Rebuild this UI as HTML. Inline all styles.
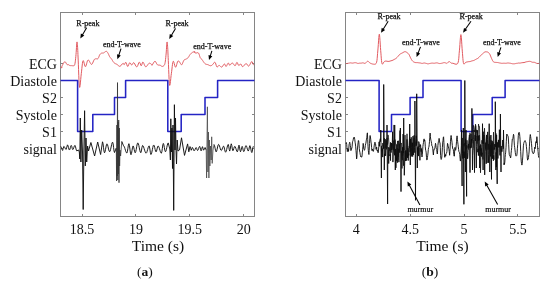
<!DOCTYPE html>
<html><head><meta charset="utf-8"><style>
html,body{margin:0;padding:0;background:#fff;}
svg{display:block;}
text{font-family:"Liberation Serif","Times New Roman",serif;fill:#111;}
.tk{font-size:14px}
.yl{font-size:14px}
.xl{font-size:15.5px}
.an{font-size:8px;stroke:#111;stroke-width:0.25px;}
.mm{font-size:8px;stroke:#111;stroke-width:0.2px;}
.pl{font-size:13.5px;}
</style></head><body>
<svg width="550" height="287" viewBox="0 0 550 287">
<rect width="550" height="287" fill="#fff"/>
<rect x="60.5" y="12.5" width="194.0" height="204.0" fill="none" stroke="#858585" stroke-width="1"/>
<line x1="82.5" y1="216.5" x2="82.5" y2="214.0" stroke="#858585" stroke-width="1"/>
<line x1="82.5" y1="12.5" x2="82.5" y2="15.0" stroke="#858585" stroke-width="1"/>
<text x="82.1" y="234.2" text-anchor="middle" class="tk">18.5</text>
<line x1="135.5" y1="216.5" x2="135.5" y2="214.0" stroke="#858585" stroke-width="1"/>
<line x1="135.5" y1="12.5" x2="135.5" y2="15.0" stroke="#858585" stroke-width="1"/>
<text x="135.9" y="234.2" text-anchor="middle" class="tk">19</text>
<line x1="189.5" y1="216.5" x2="189.5" y2="214.0" stroke="#858585" stroke-width="1"/>
<line x1="189.5" y1="12.5" x2="189.5" y2="15.0" stroke="#858585" stroke-width="1"/>
<text x="189.8" y="234.2" text-anchor="middle" class="tk">19.5</text>
<line x1="243.5" y1="216.5" x2="243.5" y2="214.0" stroke="#858585" stroke-width="1"/>
<line x1="243.5" y1="12.5" x2="243.5" y2="15.0" stroke="#858585" stroke-width="1"/>
<text x="243.7" y="234.2" text-anchor="middle" class="tk">20</text>
<line x1="60.5" y1="63.5" x2="63.0" y2="63.5" stroke="#858585" stroke-width="1"/>
<line x1="254.5" y1="63.5" x2="252.0" y2="63.5" stroke="#858585" stroke-width="1"/>
<text x="56.9" y="68.7" text-anchor="end" class="yl">ECG</text>
<line x1="60.5" y1="80.5" x2="63.0" y2="80.5" stroke="#858585" stroke-width="1"/>
<line x1="254.5" y1="80.5" x2="252.0" y2="80.5" stroke="#858585" stroke-width="1"/>
<text x="56.9" y="85.7" text-anchor="end" class="yl">Diastole</text>
<line x1="60.5" y1="97.5" x2="63.0" y2="97.5" stroke="#858585" stroke-width="1"/>
<line x1="254.5" y1="97.5" x2="252.0" y2="97.5" stroke="#858585" stroke-width="1"/>
<text x="56.9" y="102.7" text-anchor="end" class="yl">S2</text>
<line x1="60.5" y1="114.5" x2="63.0" y2="114.5" stroke="#858585" stroke-width="1"/>
<line x1="254.5" y1="114.5" x2="252.0" y2="114.5" stroke="#858585" stroke-width="1"/>
<text x="56.9" y="119.7" text-anchor="end" class="yl">Systole</text>
<line x1="60.5" y1="131.5" x2="63.0" y2="131.5" stroke="#858585" stroke-width="1"/>
<line x1="254.5" y1="131.5" x2="252.0" y2="131.5" stroke="#858585" stroke-width="1"/>
<text x="56.9" y="136.7" text-anchor="end" class="yl">S1</text>
<line x1="60.5" y1="148.5" x2="63.0" y2="148.5" stroke="#858585" stroke-width="1"/>
<line x1="254.5" y1="148.5" x2="252.0" y2="148.5" stroke="#858585" stroke-width="1"/>
<text x="56.9" y="153.7" text-anchor="end" class="yl">signal</text>
<rect x="345.5" y="12.5" width="194.0" height="204.0" fill="none" stroke="#858585" stroke-width="1"/>
<line x1="356.5" y1="216.5" x2="356.5" y2="214.0" stroke="#858585" stroke-width="1"/>
<line x1="356.5" y1="12.5" x2="356.5" y2="15.0" stroke="#858585" stroke-width="1"/>
<text x="356.3" y="234.2" text-anchor="middle" class="tk">4</text>
<line x1="410.5" y1="216.5" x2="410.5" y2="214.0" stroke="#858585" stroke-width="1"/>
<line x1="410.5" y1="12.5" x2="410.5" y2="15.0" stroke="#858585" stroke-width="1"/>
<text x="410.2" y="234.2" text-anchor="middle" class="tk">4.5</text>
<line x1="464.5" y1="216.5" x2="464.5" y2="214.0" stroke="#858585" stroke-width="1"/>
<line x1="464.5" y1="12.5" x2="464.5" y2="15.0" stroke="#858585" stroke-width="1"/>
<text x="464.1" y="234.2" text-anchor="middle" class="tk">5</text>
<line x1="517.5" y1="216.5" x2="517.5" y2="214.0" stroke="#858585" stroke-width="1"/>
<line x1="517.5" y1="12.5" x2="517.5" y2="15.0" stroke="#858585" stroke-width="1"/>
<text x="517.9" y="234.2" text-anchor="middle" class="tk">5.5</text>
<line x1="345.5" y1="63.5" x2="348.0" y2="63.5" stroke="#858585" stroke-width="1"/>
<line x1="539.5" y1="63.5" x2="537.0" y2="63.5" stroke="#858585" stroke-width="1"/>
<text x="341.9" y="68.7" text-anchor="end" class="yl">ECG</text>
<line x1="345.5" y1="80.5" x2="348.0" y2="80.5" stroke="#858585" stroke-width="1"/>
<line x1="539.5" y1="80.5" x2="537.0" y2="80.5" stroke="#858585" stroke-width="1"/>
<text x="341.9" y="85.7" text-anchor="end" class="yl">Diastole</text>
<line x1="345.5" y1="97.5" x2="348.0" y2="97.5" stroke="#858585" stroke-width="1"/>
<line x1="539.5" y1="97.5" x2="537.0" y2="97.5" stroke="#858585" stroke-width="1"/>
<text x="341.9" y="102.7" text-anchor="end" class="yl">S2</text>
<line x1="345.5" y1="114.5" x2="348.0" y2="114.5" stroke="#858585" stroke-width="1"/>
<line x1="539.5" y1="114.5" x2="537.0" y2="114.5" stroke="#858585" stroke-width="1"/>
<text x="341.9" y="119.7" text-anchor="end" class="yl">Systole</text>
<line x1="345.5" y1="131.5" x2="348.0" y2="131.5" stroke="#858585" stroke-width="1"/>
<line x1="539.5" y1="131.5" x2="537.0" y2="131.5" stroke="#858585" stroke-width="1"/>
<text x="341.9" y="136.7" text-anchor="end" class="yl">S1</text>
<line x1="345.5" y1="148.5" x2="348.0" y2="148.5" stroke="#858585" stroke-width="1"/>
<line x1="539.5" y1="148.5" x2="537.0" y2="148.5" stroke="#858585" stroke-width="1"/>
<text x="341.9" y="153.7" text-anchor="end" class="yl">signal</text>
<polyline points="60.80,66.97 61.30,67.82 61.80,67.98 61.90,66.17 62.23,65.62 62.70,64.72 63.24,63.66 63.83,62.65 64.39,61.94 64.90,61.69 65.34,61.92 65.75,62.49 66.15,63.22 66.55,63.94 66.96,64.49 67.40,64.71 67.88,64.62 68.38,64.63 68.90,64.93 69.42,65.34 69.92,65.56 70.40,65.60 70.85,65.61 71.29,65.61 71.72,65.63 72.13,65.68 72.52,65.72 72.90,65.71 73.26,65.72 73.60,65.76 73.93,65.74 74.24,65.56 74.53,65.13 74.80,64.39 75.04,63.26 75.26,61.84 75.46,60.18 75.65,58.37 75.83,56.49 76.00,54.59 76.17,52.46 76.33,49.98 76.48,47.42 76.63,45.08 76.77,43.23 76.90,42.15 77.03,41.91 77.15,42.32 77.27,43.21 77.38,44.46 77.49,45.91 77.60,47.42 77.70,48.94 77.78,50.56 77.86,52.39 77.95,54.52 78.06,57.04 78.20,60.07 78.37,64.22 78.56,69.57 78.77,75.32 79.00,80.73 79.25,84.99 79.50,87.34 79.77,87.41 80.07,85.74 80.38,82.93 80.69,79.57 81.00,76.24 81.30,73.55 81.58,71.16 81.85,68.59 82.11,66.01 82.39,63.70 82.68,61.86 83.00,60.76 83.36,60.73 83.75,61.70 84.16,63.23 84.57,64.87 84.99,66.18 85.40,66.72 85.80,66.31 86.19,65.24 86.59,63.81 86.99,62.32 87.39,61.07 87.80,60.30 88.23,60.06 88.69,60.24 89.16,60.81 89.61,61.62 90.03,62.47 90.40,63.12 90.70,63.58 90.95,63.96 91.16,64.25 91.37,64.42 91.61,64.44 91.90,64.27 92.25,63.80 92.66,63.03 93.08,62.08 93.51,61.10 93.92,60.21 94.30,59.56 94.63,59.17 94.94,58.95 95.23,58.85 95.51,58.82 95.80,58.81 96.10,58.79 96.41,58.77 96.73,58.82 97.05,58.87 97.37,58.88 97.69,58.80 98.00,58.57 98.31,58.18 98.61,57.53 98.91,56.77 99.20,55.94 99.50,55.23 99.80,54.64 100.10,54.26 100.40,53.93 100.69,53.66 100.99,53.45 101.29,53.28 101.60,53.15 101.92,53.08 102.25,53.06 102.59,53.06 102.91,53.05 103.22,53.02 103.50,52.95 103.73,52.85 103.93,52.73 104.11,52.61 104.28,52.49 104.47,52.35 104.70,52.20 104.97,52.01 105.26,51.77 105.56,51.54 105.88,51.36 106.19,51.29 106.50,51.36 106.80,51.54 107.10,51.84 107.39,52.22 107.69,52.67 107.99,53.19 108.30,53.76 108.61,54.41 108.93,55.15 109.25,55.91 109.57,56.56 109.89,57.11 110.20,57.47 110.50,57.79 110.80,58.06 111.09,58.41 111.39,58.77 111.69,59.21 112.00,59.71 112.32,60.25 112.63,60.80 112.96,61.34 113.29,61.87 113.64,62.32 114.00,62.71 114.38,63.05 114.77,63.33 115.18,63.56 115.60,63.76 116.04,63.95 116.50,64.15 116.98,64.42 117.49,64.79 118.01,65.24 118.54,65.72 119.07,66.12 119.60,66.35 120.16,66.29 120.78,65.75 121.39,64.75 121.97,64.08 122.45,63.82 122.80,63.75 123.30,63.42 123.80,64.37 124.30,64.56 124.80,63.79 125.30,62.65 125.80,62.27 126.30,63.14 126.80,64.70 127.30,66.07 127.80,66.50 128.30,65.78 128.80,64.37 129.30,63.12 129.80,62.70 130.30,63.04 130.80,63.86 131.30,64.69 131.80,64.99 132.30,64.53 132.80,63.60 133.30,62.81 133.80,62.64 134.30,63.15 134.80,63.99 135.30,65.00 135.80,65.94 136.30,66.61 136.80,66.85 137.30,66.48 137.80,65.42 138.30,64.06 138.80,62.84 139.30,62.13 139.80,62.53 140.30,63.84 140.80,65.26 141.30,65.78 141.80,64.78 142.30,62.95 142.80,62.12 143.30,62.43 143.80,63.34 144.30,64.56 144.80,65.73 145.30,66.52 145.80,66.78 146.30,66.61 146.80,66.14 147.30,65.46 147.80,64.69 148.30,63.99 148.80,63.47 149.30,63.20 149.80,63.19 150.30,63.44 150.80,63.84 151.30,64.25 151.80,64.55 152.00,65.34 152.33,64.87 152.80,64.09 153.34,63.13 153.93,62.18 154.49,61.48 155.00,61.23 155.44,61.49 155.85,62.12 156.25,62.90 156.65,63.68 157.06,64.35 157.50,64.80 157.98,65.01 158.48,65.10 159.00,65.12 159.52,65.13 160.02,65.20 160.50,65.41 160.95,65.73 161.39,66.07 161.82,66.32 162.23,66.43 162.62,66.41 163.00,66.24 163.36,66.02 163.70,65.79 164.03,65.51 164.34,65.10 164.63,64.51 164.90,63.65 165.14,62.49 165.36,61.05 165.56,59.43 165.75,57.65 165.93,55.83 166.10,54.03 166.27,51.98 166.43,49.58 166.58,47.12 166.73,44.87 166.87,43.11 167.00,42.11 167.13,41.96 167.25,42.45 167.37,43.41 167.48,44.72 167.59,46.23 167.70,47.80 167.80,49.39 167.88,51.09 167.96,53.00 168.05,55.18 168.16,57.70 168.30,60.64 168.47,64.51 168.66,69.41 168.88,74.63 169.10,79.47 169.35,83.28 169.60,85.35 169.87,85.38 170.17,83.88 170.48,81.38 170.79,78.39 171.10,75.56 171.40,73.29 171.68,71.32 171.95,69.00 172.21,66.60 172.49,64.35 172.78,62.54 173.10,61.40 173.46,61.31 173.85,62.16 174.26,63.60 174.67,65.23 175.09,66.59 175.50,67.23 175.90,66.93 176.29,65.97 176.69,64.62 177.09,63.17 177.49,61.90 177.90,61.12 178.33,60.91 178.79,61.08 179.26,61.55 179.71,62.21 180.13,62.97 180.50,63.58 180.80,64.03 181.05,64.40 181.26,64.69 181.47,64.80 181.71,64.76 182.00,64.45 182.35,63.79 182.76,62.78 183.18,61.76 183.61,60.86 184.02,60.16 184.40,59.71 184.73,59.50 185.04,59.39 185.33,59.35 185.61,59.31 185.90,59.23 186.20,59.06 186.51,58.84 186.83,58.64 187.15,58.45 187.47,58.24 187.79,58.00 188.10,57.72 188.41,57.31 188.71,56.82 189.01,56.27 189.30,55.72 189.60,55.21 189.90,54.79 190.20,54.43 190.50,54.09 190.79,53.77 191.09,53.46 191.39,53.16 191.70,52.88 192.02,52.63 192.35,52.42 192.69,52.26 193.01,52.13 193.32,52.02 193.60,51.94 193.86,51.85 194.11,51.80 194.32,52.10 194.34,51.75 194.34,51.97 194.48,51.90 194.50,52.33 194.54,51.76 194.66,51.87 194.69,51.78 194.79,51.85 194.80,51.82 194.93,52.65 195.56,52.98 196.31,53.04 197.09,52.78 197.82,52.67 198.40,52.99 198.83,53.64 199.19,54.50 199.48,55.43 199.75,56.36 200.01,57.18 200.30,57.88 200.60,58.27 200.90,58.57 201.19,58.76 201.49,59.00 201.79,59.27 202.10,59.70 202.42,60.15 202.73,60.64 203.06,61.14 203.39,61.64 203.74,62.15 204.10,62.64 204.48,63.09 204.87,63.52 205.28,63.88 205.70,64.14 206.14,64.31 206.60,64.39 207.08,64.46 207.59,64.57 208.11,64.75 208.64,65.00 209.17,65.29 209.70,65.56 210.26,65.71 210.88,65.71 211.49,65.50 212.07,65.11 212.55,64.66 212.90,64.31 213.30,63.80 213.80,62.99 214.30,62.40 214.80,62.20 215.30,62.65 215.80,63.96 216.30,65.63 216.80,66.77 217.30,66.98 217.80,66.55 218.30,65.89 218.80,65.44 219.30,65.41 219.80,65.72 220.30,66.20 220.80,66.70 221.30,67.03 221.80,67.06 222.30,66.68 222.80,65.98 223.30,65.14 223.80,64.40 224.30,63.96 224.80,64.23 225.30,65.31 225.80,66.29 226.30,66.31 226.80,65.53 227.30,64.42 227.80,63.43 228.30,63.01 228.80,63.69 229.30,64.88 229.80,65.31 230.30,64.94 230.80,64.30 231.30,63.60 231.80,63.09 232.30,62.96 232.80,63.24 233.30,63.83 233.80,64.55 234.30,65.22 234.80,65.65 235.30,65.58 235.80,64.74 236.30,63.24 236.80,62.45 237.30,62.67 237.80,63.78 238.30,64.99 238.80,65.49 239.30,65.24 239.80,64.61 240.30,64.06 240.80,63.98 241.30,64.65 241.80,65.75 242.30,66.52 242.80,66.62 243.30,66.33 243.80,65.82 244.30,65.19 244.80,64.55 245.30,64.01 245.80,63.66 246.30,63.60 246.80,64.00 247.30,64.77 247.80,65.56 248.30,66.04 248.80,66.01 249.30,65.54 249.80,64.73 250.30,63.73 250.80,62.74 251.30,61.96 251.80,61.51 252.30,62.06 252.80,63.52 253.30,64.58 253.80,64.82" fill="none" stroke="#e25a60" stroke-width="1.0" stroke-linejoin="round" />
<polyline points="345.80,63.39 346.30,63.51 346.80,63.54 347.30,63.47 347.80,63.35 348.30,63.25 348.80,63.16 349.30,63.06 349.80,62.96 350.30,62.88 350.80,62.89 351.30,62.98 351.80,63.07 352.30,63.12 352.80,63.10 353.30,63.02 353.80,62.89 354.30,62.78 354.80,62.72 355.30,62.71 355.80,62.76 356.30,62.87 356.80,63.07 357.30,63.29 357.80,63.42 358.30,63.42 358.80,63.34 359.30,63.23 359.80,63.17 360.30,63.16 360.80,63.17 361.30,63.14 361.80,63.04 362.30,62.91 362.80,62.85 363.30,62.93 363.80,63.10 364.30,63.27 364.80,63.36 365.30,63.39 365.57,63.09 365.94,62.64 366.38,62.13 366.85,61.67 367.34,61.35 367.80,61.24 368.22,61.38 368.61,61.69 369.01,62.11 369.46,62.57 369.97,63.01 370.60,63.34 371.40,63.66 372.37,63.97 373.42,64.17 374.45,64.28 375.37,64.12 376.10,63.47 376.61,62.22 376.96,60.46 377.20,58.33 377.39,55.96 377.57,53.47 377.80,50.99 378.06,48.06 378.32,44.52 378.57,40.85 378.81,37.58 379.06,35.21 379.30,34.24 379.54,35.06 379.78,37.29 380.01,40.49 380.24,44.09 380.47,47.63 380.70,50.57 380.91,53.12 381.10,55.70 381.28,58.18 381.48,60.41 381.72,62.26 382.00,63.56 382.31,64.16 382.63,64.09 382.98,63.59 383.39,62.84 383.89,62.04 384.50,61.45 385.26,61.14 386.14,61.10 387.11,61.28 388.13,61.43 389.14,61.35 390.10,61.07 391.04,60.79 391.99,60.54 392.94,60.16 393.87,59.64 394.76,59.15 395.60,58.70 396.37,58.13 397.07,57.44 397.74,56.67 398.40,55.85 399.07,55.05 399.80,54.35 400.59,53.81 401.43,53.39 402.29,52.96 403.14,52.46 403.96,51.99 404.70,51.71 405.37,51.71 406.00,51.92 406.58,52.26 407.14,52.67 407.67,53.07 408.20,53.49 408.71,54.05 409.19,54.83 409.65,55.79 410.10,56.82 410.55,57.83 411.00,58.71 411.44,59.46 411.85,60.12 412.26,60.69 412.69,61.18 413.16,61.58 413.70,61.93 414.32,62.23 415.02,62.47 415.76,62.61 416.50,62.62 417.23,62.62 417.90,62.68 418.55,62.78 419.22,62.86 419.86,62.92 420.45,63.01 420.94,63.13 421.30,63.24 421.80,63.40 422.30,63.40 422.80,63.30 423.30,63.16 423.80,63.05 424.30,63.01 424.80,63.04 425.30,63.17 425.80,63.33 426.30,63.45 426.80,63.56 427.30,63.72 427.80,63.84 428.30,63.83 428.80,63.72 429.30,63.58 429.80,63.47 430.30,63.39 430.80,63.31 431.30,63.21 431.80,63.14 432.30,63.11 432.80,63.13 433.30,63.19 433.80,63.24 434.30,63.24 434.80,63.18 435.30,63.07 435.80,62.96 436.30,62.90 436.80,62.88 437.30,62.93 437.80,63.06 438.30,63.24 438.80,63.41 439.30,63.51 439.80,63.54 440.30,63.50 440.80,63.42 441.30,63.34 441.80,63.24 442.30,63.12 442.80,62.98 443.30,62.81 443.80,62.67 444.30,62.64 444.80,62.69 445.30,62.83 445.80,63.00 446.30,63.19 446.80,63.40 446.90,63.43 447.17,63.22 447.54,62.86 447.97,62.43 448.45,62.01 448.94,61.72 449.40,61.63 449.82,61.80 450.21,62.14 450.61,62.56 451.06,62.95 451.57,63.21 452.20,63.23 453.00,63.27 453.97,63.64 455.02,64.06 456.05,64.20 456.97,64.09 457.70,63.48 458.21,62.20 458.56,60.39 458.80,58.22 458.99,55.82 459.17,53.31 459.40,50.83 459.66,47.92 459.92,44.43 460.17,40.85 460.41,37.68 460.66,35.44 460.90,34.61 461.14,35.53 461.38,37.87 461.61,41.11 461.84,44.74 462.07,48.25 462.30,51.15 462.51,53.62 462.70,56.12 462.88,58.52 463.08,60.65 463.32,62.39 463.60,63.59 463.91,64.11 464.23,64.04 464.58,63.61 464.99,63.01 465.49,62.46 466.10,62.17 466.85,62.04 467.74,61.82 468.70,61.67 469.71,61.57 470.73,61.36 471.70,60.98 472.65,60.72 473.63,60.52 474.60,60.09 475.56,59.50 476.48,59.00 477.35,58.63 478.14,58.13 478.88,57.44 479.57,56.67 480.26,55.91 480.96,55.22 481.70,54.61 482.51,53.92 483.37,53.09 484.25,52.33 485.10,51.89 485.90,51.80 486.60,51.85 487.19,51.94 487.71,52.08 488.17,52.30 488.59,52.65 488.99,53.10 489.40,53.61 489.81,54.24 490.19,55.04 490.56,55.94 490.92,56.87 491.28,57.78 491.64,58.60 491.99,59.34 492.32,60.04 492.65,60.69 492.99,61.26 493.37,61.73 493.80,62.08 494.30,62.26 494.85,62.35 495.45,62.39 496.04,62.42 496.62,62.44 497.16,62.47 497.68,62.54 498.21,62.63 498.73,62.72 499.20,62.84 499.59,62.96 499.88,63.06 500.30,63.07 500.80,63.19 501.30,63.27 501.80,63.30 502.30,63.30 502.80,63.27 503.30,63.24 503.80,63.23 504.30,63.23 504.80,63.25 505.30,63.28 505.80,63.29 506.30,63.24 506.80,63.15 507.30,63.05 507.80,63.01 508.30,63.02 508.80,63.06 509.30,63.13 509.80,63.20 510.30,63.26 510.80,63.34 511.30,63.47 511.80,63.61 512.30,63.73 512.80,63.78 513.30,63.80 513.80,63.81 514.30,63.79 514.80,63.72 515.30,63.61 515.80,63.49 516.30,63.40 516.80,63.34 517.30,63.29 517.80,63.22 518.30,63.13 518.80,63.02 519.00,63.18 519.67,63.07 520.61,62.99 521.72,62.76 522.89,62.61 524.02,62.55 525.00,62.28 525.85,61.96 526.65,61.76 527.41,61.64 528.13,61.53 528.83,61.39 529.50,61.32 530.14,61.37 530.72,61.54 531.28,61.78 531.83,62.04 532.40,62.24 533.00,62.30 533.66,62.28 534.36,62.31 535.08,62.56 535.78,62.93 536.43,63.25 537.00,63.43 537.50,63.48 537.95,63.48 538.35,63.45 538.70,63.42 538.98,63.39 539.20,63.38" fill="none" stroke="#e25a60" stroke-width="1.0" stroke-linejoin="round" />
<polyline points="60.50,80.50 77.60,80.50 77.60,131.50 92.80,131.50 92.80,114.50 114.50,114.50 114.50,97.50 125.60,97.50 125.60,80.50 167.80,80.50 167.80,131.50 181.20,131.50 181.20,114.50 205.00,114.50 205.00,97.50 217.60,97.50 217.60,80.50 254.50,80.50" fill="none" stroke="#2424c4" stroke-width="1.55" stroke-linejoin="round" stroke-linejoin="miter"/>
<polyline points="345.50,80.50 379.10,80.50 379.10,131.50 391.50,131.50 391.50,114.50 410.10,114.50 410.10,97.50 423.00,97.50 423.00,80.50 461.10,80.50 461.10,131.50 472.80,131.50 472.80,114.50 492.20,114.50 492.20,97.50 505.10,97.50 505.10,80.50 539.50,80.50" fill="none" stroke="#2424c4" stroke-width="1.55" stroke-linejoin="round" stroke-linejoin="miter"/>
<polyline points="60.80,146.45 61.40,147.46 62.00,149.47 62.60,150.47 63.20,148.44 63.81,146.41 64.27,146.70 64.74,147.46 65.21,148.39 65.68,149.15 66.14,149.44 66.81,147.14 67.48,144.85 67.97,145.61 68.46,147.44 68.94,149.26 69.43,150.02 69.89,149.34 70.34,147.71 70.79,146.08 71.25,145.41 71.75,146.45 72.26,148.53 72.76,149.57 73.30,148.96 73.84,147.48 74.39,146.00 74.93,145.39 75.38,146.20 75.83,148.14 76.29,150.09 76.74,150.89 78.60,150.00 79.30,152.00 79.80,159.00 80.30,118.00 80.90,162.00 81.70,130.00 82.50,152.00 83.20,209.50 83.90,150.00 84.60,110.70 85.30,165.90 86.00,138.00 86.70,162.00 87.60,146.00 88.50,151.00 90.90,142.50 94.60,156.00 97.70,142.00 100.60,154.50 102.50,141.81 103.00,143.42 103.49,147.31 103.99,151.19 104.48,152.80 104.98,151.95 105.47,149.71 105.97,146.94 106.46,144.71 106.95,143.85 107.49,144.61 108.02,146.59 108.55,149.03 109.08,151.01 109.61,151.76 110.12,151.12 110.62,149.37 111.13,146.97 111.63,144.58 112.14,142.82 112.64,142.18 113.11,143.69 113.57,147.35 114.03,151.00 114.49,152.52 116.30,148.00" fill="none" stroke="#111" stroke-width="0.95" stroke-linejoin="round" /><polyline points="116.30,148.00 116.60,181.00 116.90,125.00 117.20,176.00 117.50,82.60 117.80,180.00 118.10,122.00 118.40,174.00 118.70,120.00 119.00,182.70 119.30,128.00 119.60,166.00 120.00,150.00 120.60,156.00 121.80,141.50" fill="none" stroke="#333" stroke-width="0.8" stroke-linejoin="round" /><polyline points="121.80,141.50 123.50,145.76 123.98,146.12 124.47,147.13 124.95,148.60 125.43,150.22 125.92,151.68 126.40,152.69 126.88,153.05 127.38,151.68 127.88,148.37 128.38,145.06 128.88,143.69 129.41,145.31 129.93,149.20 130.45,153.09 130.98,154.71 131.51,153.42 132.04,150.32 132.57,147.22 133.10,145.93 133.63,146.93 134.15,149.35 134.68,151.76 135.20,152.76 135.72,151.82 136.24,149.35 136.75,146.29 137.27,143.82 137.79,142.88 138.29,143.54 138.80,145.34 139.30,147.81 139.80,150.27 140.30,152.08 140.81,152.74 141.39,150.93 141.98,147.30 142.56,145.49 143.07,145.87 143.58,146.93 144.09,148.47 144.60,150.18 145.11,151.72 145.62,152.78 146.13,153.16 146.63,152.67 147.13,151.33 147.63,149.51 148.13,147.68 148.64,146.35 149.14,145.86 149.73,148.02 150.33,152.35 150.92,154.51 151.39,153.87 151.86,152.13 152.33,149.74 152.80,147.35 153.27,145.61 153.73,144.97 154.20,145.63 154.66,147.35 155.12,149.48 155.58,151.20 156.05,151.86 156.56,151.00 157.07,148.91 157.58,146.83 158.09,145.96 158.56,146.32 159.03,147.32 159.49,148.77 159.96,150.38 160.43,151.82 160.90,152.82 161.37,153.18 161.86,151.76 162.35,148.32 162.84,144.89 163.33,143.46 163.85,144.68 164.37,147.61 164.89,150.55 165.41,151.77 165.88,151.17 166.36,149.55 166.83,147.34 167.30,145.13 167.77,143.51 168.24,142.91 169.80,149.00 170.40,160.00 170.80,118.80 171.40,152.00 171.90,128.00 172.50,168.50 173.00,125.00 173.70,210.40 174.40,104.70 175.00,150.00 175.50,118.00 176.00,150.00 176.50,164.00 177.20,140.00 178.00,151.00 179.50,150.00 181.50,137.80 184.50,155.40 187.60,143.90 188.80,151.80 190.00,146.57 190.63,148.41 191.25,150.25 191.78,148.83 192.31,147.42 192.78,147.93 193.24,149.17 193.70,150.40 194.17,150.91 194.67,150.42 195.17,149.23 195.66,148.04 196.16,147.54 196.63,148.29 197.09,149.78 197.56,150.53 198.09,149.91 198.62,148.44 199.16,146.96 199.69,146.35 200.17,147.47 200.64,149.70 201.11,150.82 201.58,149.78 202.04,147.71 202.51,146.67 203.05,148.44 203.59,150.21 204.09,149.53 204.58,148.17 205.08,147.50 206.20,150.00" fill="none" stroke="#111" stroke-width="0.95" stroke-linejoin="round" /><polyline points="206.20,150.00 206.60,178.00 207.00,138.00 207.40,106.80 207.90,172.00 208.40,132.00 208.90,178.00 209.40,140.00 209.90,166.00 210.50,146.00 211.20,160.00 211.70,136.80 212.20,163.40 213.00,150.00 214.00,144.50" fill="none" stroke="#444" stroke-width="0.75" stroke-linejoin="round" /><polyline points="214.00,144.50 214.54,145.58 215.08,148.19 215.63,150.80 216.17,151.89 216.64,151.17 217.12,149.30 217.60,146.98 218.07,145.11 218.55,144.39 219.00,144.80 219.46,145.92 219.91,147.45 220.37,148.98 220.82,150.09 221.28,150.50 221.74,150.08 222.19,148.99 222.65,147.63 223.11,146.53 223.56,146.11 224.07,147.01 224.57,149.17 225.08,151.33 225.58,152.22 226.12,151.48 226.65,149.54 227.19,147.14 227.72,145.19 228.26,144.45 228.73,146.11 229.21,149.42 229.68,151.07 230.21,149.25 230.75,145.62 231.28,143.80 231.81,145.54 232.33,149.02 232.86,150.76 233.33,150.11 233.80,148.55 234.28,146.98 234.75,146.34 235.28,146.86 235.81,148.23 236.34,149.92 236.86,151.29 237.39,151.82 237.93,150.15 238.46,146.82 238.99,145.15 239.49,146.80 239.98,150.10 240.47,151.75 241.04,150.41 241.61,147.73 242.18,146.40 242.69,147.70 243.20,150.30 243.71,151.60 244.17,151.03 244.63,149.53 245.09,147.69 245.55,146.19 246.02,145.62 246.48,146.14 246.94,147.50 247.40,149.18 247.86,150.53 248.33,151.05 248.85,149.70 249.36,147.00 249.88,145.65 250.37,146.66 250.86,149.11 251.34,151.55 251.83,152.56 252.34,150.99 252.85,147.84 253.36,146.27" fill="none" stroke="#111" stroke-width="0.95" stroke-linejoin="round" />
<polyline points="345.80,143.40 346.10,143.21 346.40,142.55 346.70,144.29 347.00,148.68 347.30,151.64 347.60,150.38 347.90,148.51 348.20,149.44 348.50,151.43 348.80,148.48 349.10,144.37 349.40,143.39 349.70,142.20 350.00,143.42 350.30,145.44 350.60,147.74 350.90,150.63 351.20,150.13 351.50,148.30 351.80,148.52 352.10,146.73 352.40,142.92 352.70,141.29 353.00,140.60 353.30,139.13 353.60,137.75 353.90,137.62 354.20,137.07 354.50,138.06 354.80,139.74 355.10,142.19 355.40,143.95 355.70,146.80 356.00,150.61 356.30,154.13 356.60,158.91 356.90,157.16 357.20,150.93 357.50,147.95 357.80,145.13 358.10,142.51 358.40,140.47 358.70,140.79 359.00,144.12 359.30,148.62 359.60,151.00 359.90,152.24 360.20,154.29 360.50,155.66 360.80,156.88 361.10,156.57 361.40,157.17 361.70,157.14 362.00,156.03 362.30,152.87 362.60,149.81 362.90,146.86 363.20,143.36 363.50,145.86 363.80,148.83 364.10,149.30 364.40,150.33 364.70,149.66 365.00,148.17 365.30,145.72 365.60,144.04 365.90,143.17 366.20,140.93 366.50,139.12 366.80,137.85 367.10,134.27 367.40,132.85 367.70,139.28 368.00,146.43 368.30,150.30 368.60,152.80 368.90,154.51 369.20,150.27 369.50,143.56 369.80,138.11 370.10,135.50 370.40,136.87 370.70,139.14 371.00,142.05 371.30,143.97 371.60,147.42 371.90,150.54 372.20,150.15 372.50,149.08 372.80,150.92 373.10,151.39 373.40,151.28 373.70,149.90 374.00,147.54 374.30,145.07 374.60,143.16 374.90,142.16 375.20,142.56 375.50,143.57 375.80,146.30 376.10,149.38 376.40,147.85 376.70,147.02 377.00,150.51 377.30,150.86 377.60,150.12 377.90,152.28 378.20,152.78 378.50,150.09 378.80,146.50 379.10,141.87 379.40,146.30 379.70,140.61 380.00,139.92 380.30,138.67 380.60,141.61 380.80,130.00 381.40,178.00 381.50,148.05 381.80,145.80 382.10,151.35 382.40,148.57 382.70,157.10 383.00,144.46 383.30,146.18 383.60,148.74 383.70,84.50 384.30,170.00 384.50,153.89 384.80,155.98 385.10,139.01 385.40,155.89 385.70,155.41 386.00,148.68 386.30,140.63 386.60,142.69 386.90,147.56 387.00,125.00 387.60,204.00 387.80,158.02 388.10,147.18 388.40,149.45 388.70,163.54 389.00,147.64 389.30,148.22 389.60,148.55 389.90,155.99 390.20,154.28 390.50,160.60 390.80,143.13 391.10,152.59 391.40,143.02 391.70,150.05 392.00,149.44 392.30,142.92 392.60,131.74 392.90,162.09 393.20,154.32 393.50,149.05 393.80,140.62 394.10,145.81 394.40,155.27 394.70,125.00 395.30,170.00 395.60,148.91 395.90,167.88 396.20,155.38 396.50,160.71 396.80,144.35 397.10,157.43 397.40,162.63 397.70,148.22 398.00,152.80 398.30,156.78 398.60,149.01 398.90,162.17 399.20,143.84 399.50,148.81 399.80,152.69 400.10,133.45 400.40,128.00 401.00,191.60 401.30,159.88 401.60,150.84 401.90,151.71 402.20,160.18 402.50,147.30 402.80,155.55 403.10,134.05 403.40,153.10 403.70,118.00 404.30,175.30 404.60,165.82 404.90,157.79 405.20,150.88 405.50,160.94 405.80,150.46 406.10,158.13 406.40,160.63 406.70,149.16 407.00,139.40 407.30,147.06 407.60,157.87 407.90,148.15 408.20,160.56 408.50,153.56 408.80,155.38 409.10,146.43 409.40,147.66 409.70,124.00 410.30,165.00 410.60,139.06 410.90,151.03 411.20,137.27 411.50,147.45 411.80,156.53 412.10,155.21 412.40,142.74 412.70,156.53 413.00,136.04 413.30,155.01 413.60,150.58 413.90,140.74 414.20,137.70 414.50,147.49 414.80,152.70 414.90,101.00 415.50,200.30 415.70,154.84 416.00,150.62 416.30,135.81 416.60,145.59 416.70,93.80 417.30,168.00 417.50,147.62 417.80,155.16 418.10,146.37 418.40,156.08 418.70,141.58 419.00,142.35 419.30,143.55 419.60,147.42 419.90,160.31 420.20,146.81 420.50,144.62 420.80,147.31 421.10,151.67 421.40,148.53 421.70,155.44 422.00,156.97 422.30,154.81 422.60,151.02 422.90,146.63 423.20,144.25 423.50,142.35 423.80,139.83 424.10,138.89 424.40,141.22 424.70,140.03 425.00,141.53 425.30,146.80 425.60,150.08 425.90,150.86 426.20,152.84 426.50,157.55 426.80,159.96 427.10,159.84 427.40,157.76 427.70,155.66 428.00,153.05 428.30,149.53 428.60,147.56 428.90,147.21 429.20,144.68 429.50,141.40 429.80,137.11 430.10,133.07 430.40,136.53 430.70,139.13 431.00,140.42 431.30,141.81 431.60,143.51 431.90,145.98 432.20,146.42 432.50,146.52 432.80,148.86 433.10,152.62 433.40,154.93 433.70,151.19 434.00,149.23 434.30,149.43 434.60,148.41 434.90,147.84 435.20,145.66 435.50,143.32 435.80,144.62 436.10,147.61 436.40,149.14 436.70,149.50 437.00,152.21 437.30,153.96 437.60,150.81 437.90,145.68 438.20,142.96 438.50,141.24 438.80,140.24 439.10,138.37 439.40,140.03 439.70,142.52 440.00,142.53 440.30,147.27 440.60,155.39 440.90,158.60 441.20,159.46 441.50,158.73 441.80,156.99 442.10,152.90 442.40,147.33 442.70,142.99 443.00,140.47 443.30,137.55 443.60,136.80 443.90,142.39 444.20,148.28 444.50,154.37 444.80,157.34 445.10,154.37 445.40,154.75 445.70,156.13 446.00,154.43 446.30,153.44 446.60,153.07 446.90,151.51 447.20,147.69 447.50,143.39 447.80,144.09 448.10,145.72 448.40,146.47 448.70,148.50 449.00,149.62 449.30,151.68 449.60,155.28 449.90,151.69 450.20,146.07 450.50,141.29 450.80,137.68 451.10,135.47 451.40,137.79 451.70,139.99 452.00,142.26 452.30,145.32 452.60,148.01 452.90,148.98 453.20,149.20 453.50,151.24 453.80,154.40 454.10,156.29 454.40,156.02 454.70,149.79 455.00,147.39 455.30,149.56 455.60,150.30 455.90,148.93 456.20,145.78 456.50,141.74 456.80,137.33 457.10,135.85 457.40,139.33 457.70,141.82 458.00,144.29 458.30,146.88 458.60,149.38 458.90,151.46 459.20,151.95 459.50,152.77 459.80,154.61 460.10,158.77 460.40,161.09 460.70,155.95 461.00,153.09 461.30,145.61 461.50,130.00 462.10,186.00 462.20,137.96 462.50,153.34 462.80,158.56 463.10,152.21 463.30,128.00 463.90,204.30 464.00,151.62 464.30,157.89 464.60,156.86 464.80,80.50 465.40,172.00 465.50,138.83 465.80,144.44 466.00,130.00 466.60,196.40 466.70,145.49 467.00,148.08 467.30,152.44 467.60,158.84 467.90,156.81 468.20,148.84 468.50,143.98 468.80,147.78 469.10,139.66 469.40,135.00 470.00,172.60 470.30,146.25 470.60,148.25 470.90,133.88 471.20,147.74 471.50,139.00 471.80,143.35 471.90,108.40 472.50,170.00 472.70,155.44 473.00,150.79 473.30,148.80 473.60,139.65 473.90,130.00 474.50,172.60 474.80,137.62 475.10,134.92 475.40,140.88 475.70,125.60 476.30,168.00 476.60,146.70 476.90,136.19 477.20,136.77 477.50,130.29 477.80,152.18 478.10,148.81 478.40,155.61 478.70,136.02 479.00,140.37 479.10,135.00 479.70,168.00 479.90,145.81 480.20,150.84 480.50,144.49 480.80,155.45 481.10,148.40 481.40,156.59 481.70,144.84 482.00,140.26 482.30,143.51 482.50,123.70 483.10,170.00 483.20,131.71 483.50,143.86 483.80,141.80 484.10,135.00 484.70,174.90 485.00,148.36 485.30,142.63 485.60,148.75 485.90,151.59 486.20,163.81 486.50,134.92 486.80,151.85 487.10,162.89 487.40,139.69 487.70,131.87 488.00,142.92 488.30,154.73 488.60,162.80 488.90,142.98 489.20,123.70 489.80,172.00 490.10,149.59 490.40,144.89 490.70,156.47 490.90,135.00 491.50,179.40 491.60,142.91 491.90,153.09 492.20,140.84 492.50,158.60 492.80,150.01 493.10,142.39 493.40,160.70 493.70,155.37 494.00,159.63 494.30,147.49 494.60,149.16 494.90,144.38 495.20,147.02 495.30,101.70 495.90,170.00 496.10,152.40 496.40,167.06 496.60,135.00 497.20,183.90 497.30,142.41 497.60,148.41 497.90,158.49 498.20,148.63 498.50,139.89 498.80,145.93 499.10,147.33 499.40,129.70 499.70,152.24 500.00,155.44 500.30,140.91 500.40,114.00 501.00,172.00 501.20,145.98 501.50,151.37 501.80,151.91 502.10,151.69 502.40,147.27 502.70,140.02 503.00,142.09 503.30,148.63 503.50,130.00 504.10,165.00 504.20,162.89 504.50,163.97 504.80,162.12 505.10,157.53 505.40,154.38 505.70,152.15 506.00,147.72 506.30,141.76 506.60,135.99 506.90,134.02 507.20,135.46 507.50,135.77 507.80,135.54 508.10,136.28 508.40,138.97 508.70,144.78 509.00,150.99 509.30,154.62 509.60,155.60 509.90,155.41 510.20,156.04 510.50,157.98 510.80,157.15 511.10,153.19 511.40,150.35 511.70,147.62 512.00,142.91 512.30,139.03 512.60,138.96 512.90,138.69 513.20,136.34 513.50,134.31 513.80,135.39 514.10,140.90 514.40,145.28 514.70,147.46 515.00,149.96 515.30,152.52 515.60,154.80 515.90,155.92 516.20,156.12 516.50,155.77 516.80,155.37 517.10,153.00 517.40,148.29 517.70,144.67 518.00,140.87 518.30,135.71 518.60,132.97 518.90,133.00 519.20,132.37 519.50,133.24 519.80,136.34 520.10,139.73 520.40,144.96 520.70,151.41 521.00,157.77 521.30,161.84 521.60,163.72 521.90,165.08 522.20,163.85 522.50,160.17 522.80,156.10 523.10,151.11 523.40,145.84 523.70,143.56 524.00,142.43 524.30,141.49 524.60,141.51 524.90,140.63 525.20,140.67 525.50,141.60 525.80,142.21 526.10,143.68 526.40,146.60 526.70,149.80 527.00,153.19 527.30,158.02 527.60,160.18 527.90,159.24 528.20,159.10 528.50,157.35 528.80,154.56 529.10,151.99 529.40,146.77 529.70,141.08 530.00,136.49 530.30,134.53 530.60,136.38 530.90,138.43 531.20,140.56 531.50,143.67 531.80,147.47 532.10,150.76 532.40,152.29 532.70,152.83 533.00,152.97 533.30,153.84 533.60,153.33 533.90,152.34 534.20,152.41 534.50,149.39 534.80,147.10 535.10,148.69 535.40,147.43 535.70,142.57 536.00,141.58 536.30,143.03 536.60,139.84 536.90,136.70 537.20,140.04 537.50,145.53 537.80,148.59 538.10,151.61 538.40,155.35 538.70,157.33 539.00,157.08" fill="none" stroke="#0a0a0a" stroke-width="0.9" stroke-linejoin="round" /><polyline points="382.00,144.00 382.50,143.26 383.00,145.79 383.50,143.33 384.00,141.81 384.50,138.27 385.00,148.23 385.50,147.25 386.00,140.15 386.50,149.31 387.00,137.83 387.50,144.64 388.00,134.93 388.50,137.63 389.00,144.50 389.50,148.69 390.00,151.01 390.50,142.31 391.00,145.44 391.50,148.50 392.00,146.21 392.50,144.02 393.00,149.42 393.50,149.88 394.00,124.95 394.50,148.14 395.00,139.55 395.50,142.81 396.00,146.71 396.50,156.28 397.00,157.91 397.50,140.91 398.00,159.73 398.50,140.76 399.00,150.59 399.50,146.66 400.00,130.61 400.50,143.88 401.00,143.58 401.50,142.98 402.00,168.45 402.50,154.60 403.00,149.74 403.50,165.73 404.00,150.86 404.50,150.28 405.00,135.09 405.50,153.17 406.00,152.31 406.50,156.06 407.00,133.81 407.50,150.66 408.00,154.95 408.50,151.24 409.00,147.33 409.50,137.96 410.00,151.97 410.50,148.86 411.00,142.48 411.50,155.65 412.00,149.43 412.50,146.20 413.00,154.97 413.50,141.59 414.00,135.04 414.50,135.36 415.00,146.18 415.50,142.99 416.00,141.14 416.50,138.22 417.00,142.28 417.50,142.72" fill="none" stroke="#111" stroke-width="0.8" stroke-linejoin="round" /><polyline points="463.00,145.00 463.50,144.31 464.00,146.36 464.50,143.27 465.00,145.38 465.50,146.92 466.00,145.13 466.50,149.07 467.00,140.28 467.50,147.66 468.00,148.38 468.50,149.43 469.00,140.50 469.50,136.51 470.00,132.77 470.50,146.16 471.00,147.11 471.50,143.02 472.00,141.17 472.50,140.21 473.00,131.91 473.50,125.43 474.00,127.26 474.50,131.90 475.00,130.00 475.50,124.20 476.00,132.63 476.50,129.87 477.00,143.61 477.50,136.97 478.00,141.22 478.50,124.07 479.00,127.10 479.50,126.64 480.00,146.14 480.50,172.79 481.00,153.39 481.50,149.48 482.00,154.55 482.50,152.81 483.00,159.45 483.50,149.13 484.00,138.61 484.50,128.19 485.00,144.38 485.50,149.28 486.00,143.17 486.50,135.66 487.00,139.66 487.50,142.27 488.00,149.73 488.50,144.12 489.00,149.26 489.50,138.29 490.00,136.49 490.50,154.66 491.00,140.07 491.50,142.79 492.00,158.55 492.50,147.33 493.00,153.91 493.50,132.16 494.00,149.91 494.50,144.29 495.00,144.93 495.50,145.87 496.00,133.48 496.50,139.50 497.00,143.66 497.50,150.46 498.00,142.48 498.50,147.18" fill="none" stroke="#111" stroke-width="0.8" stroke-linejoin="round" />
<text x="76.3" y="25.6" class="an">R-peak</text>
<line x1="86.6" y1="27.8" x2="82.1" y2="35.5" stroke="#000" stroke-width="1.05"/><polygon points="80.3,38.6 80.9,33.6 84.3,35.6" fill="#000"/>
<text x="165.5" y="26.3" class="an">R-peak</text>
<line x1="175.5" y1="28.4" x2="171.0" y2="35.9" stroke="#000" stroke-width="1.05"/><polygon points="169.2,39.0 169.8,34.0 173.3,36.1" fill="#000"/>
<text x="102.9" y="47.3" class="an">end-T-wave</text>
<line x1="121.0" y1="48.7" x2="118.6" y2="55.8" stroke="#000" stroke-width="1.05"/><polygon points="117.4,59.2 117.0,54.2 120.8,55.5" fill="#000"/>
<text x="193.3" y="48.5" class="an">end-T-wave</text>
<line x1="211.9" y1="50.8" x2="210.1" y2="56.6" stroke="#000" stroke-width="1.05"/><polygon points="209.0,60.0 208.5,55.0 212.3,56.2" fill="#000"/>
<text x="377.5" y="19.2" class="an">R-peak</text>
<line x1="388.2" y1="21.2" x2="382.9" y2="29.7" stroke="#000" stroke-width="1.05"/><polygon points="381.0,32.8 381.7,27.8 385.1,29.9" fill="#000"/>
<text x="459.6" y="19.4" class="an">R-peak</text>
<line x1="471.0" y1="21.2" x2="465.0" y2="29.8" stroke="#000" stroke-width="1.05"/><polygon points="463.0,32.8 464.0,27.9 467.3,30.1" fill="#000"/>
<text x="401.9" y="44.9" class="an">end-T-wave</text>
<line x1="420.5" y1="46.9" x2="417.9" y2="53.6" stroke="#000" stroke-width="1.05"/><polygon points="416.6,57.0 416.4,52.0 420.1,53.4" fill="#000"/>
<text x="482.9" y="44.9" class="an">end-T-wave</text>
<line x1="500.9" y1="47.3" x2="498.8" y2="53.6" stroke="#000" stroke-width="1.05"/><polygon points="497.7,57.0 497.2,52.0 501.0,53.3" fill="#000"/>
<text x="407.4" y="212.4" class="mm">murmur</text>
<line x1="419.9" y1="205.0" x2="409.1" y2="184.7" stroke="#000" stroke-width="1.05"/><polygon points="407.4,181.5 411.3,184.6 407.8,186.5" fill="#000"/>
<text x="485.2" y="212.2" class="mm">murmur</text>
<line x1="497.6" y1="204.6" x2="486.4" y2="184.5" stroke="#000" stroke-width="1.05"/><polygon points="484.7,181.4 488.7,184.4 485.2,186.4" fill="#000"/>
<text x="158" y="250.9" text-anchor="middle" class="xl">Time (s)</text>
<text x="442.5" y="250.9" text-anchor="middle" class="xl">Time (s)</text>
<text x="144.8" y="276.3" text-anchor="middle" class="pl">(<tspan font-weight="bold">a</tspan>)</text>
<text x="430.0" y="276.3" text-anchor="middle" class="pl">(<tspan font-weight="bold">b</tspan>)</text>
</svg>
</body></html>
